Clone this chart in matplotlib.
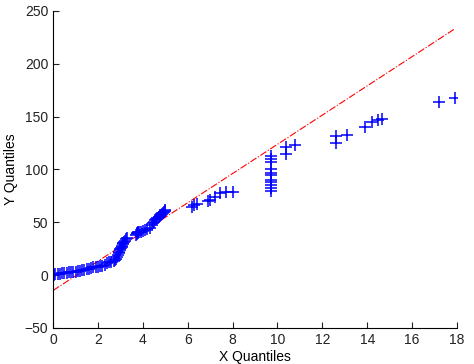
import matplotlib.pyplot as plt

# sorted sample quantiles (x) against sorted sample quantiles (y)
x_quant = [0.05, 0.1, 0.2, 0.3, 0.4, 0.5, 0.6, 0.7, 0.8, 0.9, 1.0, 1.1, 1.2, 1.3, 1.4, 1.5, 1.6, 1.7, 1.8,
           1.9, 2.0, 2.1, 2.2, 2.3, 2.4, 2.5, 2.6, 2.7, 2.75, 2.8,
           2.85, 2.9, 2.92, 2.95, 2.98, 3.0, 3.02, 3.05, 3.08, 3.1, 3.12, 3.15, 3.2, 3.25, 3.3,
           3.7, 3.72, 3.75, 3.78, 3.8, 3.85, 3.9, 4.0, 4.1, 4.2, 4.3,
           4.4, 4.45, 4.5, 4.55, 4.6, 4.65, 4.7, 4.75, 4.8, 4.85, 4.9, 4.95, 5.0, 5.0,
           6.2, 6.3, 6.4, 6.9, 7.0, 7.2, 7.45, 7.7, 8.0,
           9.7, 9.7, 9.7, 9.7, 9.7, 9.7, 9.7, 9.7, 9.7, 9.7, 9.7,
           10.4, 10.4, 10.8, 12.6, 12.6, 13.1, 13.9, 14.2, 14.5, 14.65, 17.2, 17.9]
y_quant = [0, 1, 1, 1, 2, 2, 2, 3, 3, 3, 3, 4, 4, 5, 5, 6, 6, 7, 8,
           8, 8, 9, 9, 10, 11, 12, 12, 13, 14, 15,
           17, 19, 21, 22, 24, 25, 26, 27, 28, 29, 30, 31, 32, 34, 35,
           38, 39, 40, 40, 41, 41, 41, 42, 43, 44, 45,
           47, 49, 50, 52, 53, 54, 55, 56, 57, 58, 59, 60, 61, 62,
           64, 66, 67, 70, 71, 74, 78, 79, 79,
           80, 82, 85, 88, 90, 95, 97, 100, 107, 110, 113,
           115, 121, 123, 125, 132, 133, 140, 145, 147, 148, 164, 168]

# reference line through the quartiles
line_x = [0, 17.9]
line_y = [-14.5, 233]

plt.rcParams['font.family'] = ['Liberation Sans', 'DejaVu Sans']

fig = plt.figure(figsize=(4.74, 3.64), dpi=100)
ax = fig.add_axes([0.112, 0.099, 0.852, 0.871])

ax.plot(line_x, line_y, '-.', color='#ff0000', linewidth=0.8, zorder=1)
ax.plot(x_quant, y_quant, '+', color='#0000ff', markersize=8, markeredgewidth=1.1, zorder=2)

ax.set_xlim(0, 18)
ax.set_ylim(-50, 250)
ax.set_xticks(range(0, 19, 2))
ax.set_yticks(range(-50, 251, 50))
ax.tick_params(direction='in', length=4, labelsize=10, colors='#222222')
ax.spines['top'].set_visible(False)
ax.spines['right'].set_visible(False)
ax.set_xlabel('X Quantiles', fontsize=10, labelpad=2)
ax.set_ylabel('Y Quantiles', fontsize=10, labelpad=5)

fig.savefig('out.png', dpi=100)
